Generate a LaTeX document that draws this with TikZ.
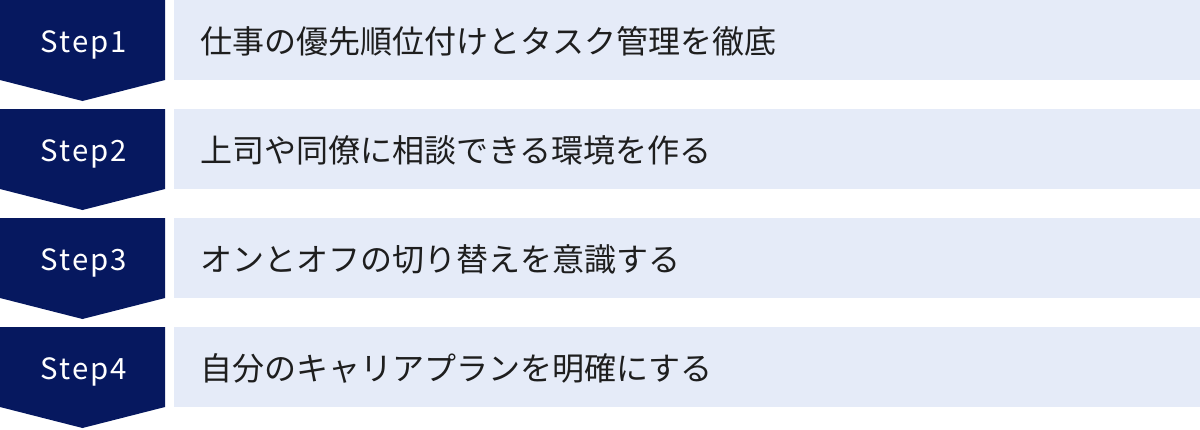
\documentclass[tikz,border=0pt]{standalone}
\usepackage{fontspec}
\newfontfamily\jpfont{Noto Sans CJK JP}
\newfontfamily\stepfont[LetterSpace=7]{Noto Sans CJK JP}
\definecolor{navy}{HTML}{06185F}
\definecolor{lightbg}{HTML}{E5EBF8}
\definecolor{txt}{HTML}{1E1E1E}
\begin{document}
\begin{tikzpicture}[x=0.75pt,y=-0.75pt,
  steplabel/.style={text=white,font=\stepfont\fontsize{22pt}{24pt}\selectfont,anchor=base,inner sep=0pt},
  itemtext/.style={text=txt,font=\jpfont\fontsize{24pt}{28pt}\selectfont,anchor=base west,inner sep=0pt},
  chev/.style={fill=navy},
  panel/.style={fill=lightbg}]
\useasboundingbox (0,0) rectangle (1200,429);
\foreach \i/\t in {1/仕事の優先順位付けとタスク管理を徹底,2/上司や同僚に相談できる環境を作る,3/オンとオフの切り替えを意識する,4/自分のキャリアプランを明確にする}{
  \pgfmathsetmacro{\y}{(\i-1)*109}
  \fill[chev] (0,\y) -- (165,\y) -- (165,\y+80) -- (82.5,\y+101) -- (0,\y+80) -- cycle;
  \fill[panel] (174,\y) rectangle (1200,\y+80);
  \node[steplabel] (s\i) at (84,\y+52) {Step\i};
  \node[itemtext] (t\i) at (200,\y+53) {\t};
}
\end{tikzpicture}
\end{document}
